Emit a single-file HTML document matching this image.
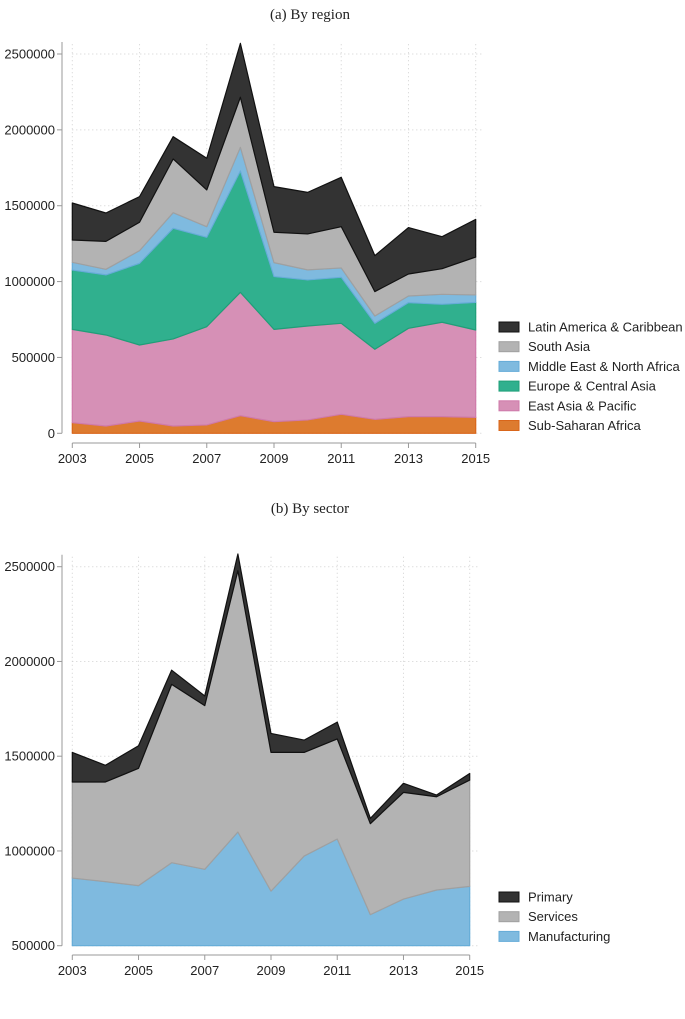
<!DOCTYPE html>
<html><head><meta charset="utf-8">
<style>
html,body{margin:0;padding:0;background:#fff;}
svg{display:block;}
</style></head>
<body>
<svg id="chart" width="685" height="1019" xmlns="http://www.w3.org/2000/svg"></svg>
<script>
const years = [2003,2004,2005,2006,2007,2008,2009,2010,2011,2012,2013,2014,2015];
const xTickYears = [2003,2005,2007,2009,2011,2013,2015];
// Panel (a) by region, thousands
const regionNames = ["Sub-Saharan Africa","East Asia & Pacific","Europe & Central Asia","Middle East & North Africa","South Asia","Latin America & Caribbean"];
const regionColors = ["#dd7b2f","#d690b6","#30b08e","#7fbadf","#b3b3b3","#333333"];
const regionStroke = ["#d9661a","#cf7aaa","#1f9f78","#66acd8","#a0a0a0","#111111"];
const ssa  = [70,48,81,48,55,116,77,88,125,92,110,110,105];
const eap  = [615,600,501,574,648,813,608,619,600,462,582,622,576];
const eca  = [391,396,538,729,589,800,348,304,303,171,169,118,182];
const mena = [51,37,84,103,70,156,92,66,62,48,44,66,49];
const sa   = [147,184,187,354,242,330,200,237,272,161,145,169,250];
const lac  = [244,187,169,147,209,355,301,274,325,237,306,211,248];
const regionTicks = [0,500000,1000000,1500000,2000000,2500000];
// Panel (b) by sector, thousands
const sectorNames = ["Manufacturing","Services","Primary"];
const sectorColors = ["#7fbadf","#b3b3b3","#333333"];
const sectorStroke = ["#66acd8","#a0a0a0","#111111"];
const manuf = [857,838,817,938,903,1100,788,973,1063,664,746,794,813];
const serv  = [507,526,619,941,864,1379,732,547,528,480,563,492,561];
const prim  = [156,88,119,75,51,88,100,65,89,28,48,9,35];
const sectorTicks = [500000,1000000,1500000,2000000,2500000];

const NS="http://www.w3.org/2000/svg";
const svg=document.getElementById('chart');
function mk(tag,attrs,parent){const e=document.createElementNS(NS,tag);for(const k in attrs)e.setAttribute(k,attrs[k]);(parent||svg).appendChild(e);return e;}

function panel(cfg){
  const g=mk('g',{});
  
  
  const xs=v=>cfg.x0+(v-2003)/(2015-2003)*(cfg.x1-cfg.x0);
  const ys=v=>cfg.y0-(Math.max(v,cfg.vmin)-cfg.vmin)/(cfg.vmax-cfg.vmin)*(cfg.y0-cfg.y1);
  const t=mk('text',{x:310,y:cfg.titleY,'text-anchor':'middle','font-family':'Liberation Serif, serif','font-size':'15',fill:'#222'},g);
  t.textContent=cfg.title;
  
  
  cfg.ticks.forEach(v=>{const l=mk('line',{x1:cfg.x0,x2:cfg.x1+8,y1:ys(v),y2:ys(v),stroke:'#d0d0d0','stroke-dasharray':'1,3','stroke-width':1},g);
    });
  xTickYears.forEach(v=>{const l=mk('line',{x1:xs(v),x2:xs(v),y1:cfg.y0,y2:cfg.y1-12,stroke:'#d0d0d0','stroke-dasharray':'1,3','stroke-width':1},g);
    });
  let base=years.map(()=>0);
  cfg.series.forEach((s,i)=>{
    const top=base.map((b,j)=>b+s[j]*1000);
    let d='M'+years.map((y,j)=>xs(y)+','+ys(top[j])).join('L');
    d+='L'+years.slice().reverse().map((y,j)=>xs(y)+','+ys(base[years.length-1-j])).join('L')+'Z';
    const p=mk('path',{d:d,fill:cfg.colors[i],stroke:cfg.strokes[i],'stroke-width':1.2,'stroke-linejoin':'round'},g);
    
    
    base=top;
  });
  const ya=mk('line',{x1:cfg.axX,x2:cfg.axX,y1:cfg.y0,y2:cfg.y1-12,stroke:'#999','stroke-width':1},g);
  
  cfg.ticks.forEach(v=>{
    mk('line',{x1:cfg.axX-5,x2:cfg.axX,y1:ys(v),y2:ys(v),stroke:'#999'},g);
    const tx=mk('text',{x:cfg.axX-7,y:ys(v)+4.5,'text-anchor':'end','font-family':'Liberation Sans, sans-serif','font-size':'13',fill:'#222'},g);
    tx.textContent=v;
    
  });
  const xa=mk('line',{x1:cfg.x0,x2:cfg.x1,y1:cfg.axY,y2:cfg.axY,stroke:'#999'},g);
  
  xTickYears.forEach(v=>{
    mk('line',{x1:xs(v),x2:xs(v),y1:cfg.axY,y2:cfg.axY+5,stroke:'#999'},g);
    const tx=mk('text',{x:xs(v),y:cfg.axY+20,'text-anchor':'middle','font-family':'Liberation Sans, sans-serif','font-size':'13',fill:'#222'},g);
    tx.textContent=v;
    
  });
  const n=cfg.names.length;
  for(let k=0;k<n;k++){
    const i=n-1-k;const cy=cfg.legY+k*19.7;
    const lg=mk('g',{},g);
    
    mk('rect',{x:499,y:cy-5,width:20,height:10,fill:cfg.colors[i],stroke:cfg.strokes[i],'stroke-width':1},lg);
    const tx=mk('text',{x:528,y:cy+4.5,'font-family':'Liberation Sans, sans-serif','font-size':'13',fill:'#222'},lg);
    tx.textContent=cfg.names[i];
  }
}
panel({name:'panel-by-region',title:'(a) By region',titleY:19,x0:72.3,x1:475.7,y0:433.3,y1:54,vmin:0,vmax:2500000,axX:62,axY:443,ticks:regionTicks,
  series:[ssa,eap,eca,mena,sa,lac],names:regionNames,colors:regionColors,strokes:regionStroke,legY:327});
panel({name:'panel-by-sector',title:'(b) By sector',titleY:513,x0:72.3,x1:469.7,y0:945.7,y1:566.7,vmin:500000,vmax:2500000,axX:62,axY:955,ticks:sectorTicks,
  series:[manuf,serv,prim],names:sectorNames,colors:sectorColors,strokes:sectorStroke,legY:897});
</script>
</body></html>
